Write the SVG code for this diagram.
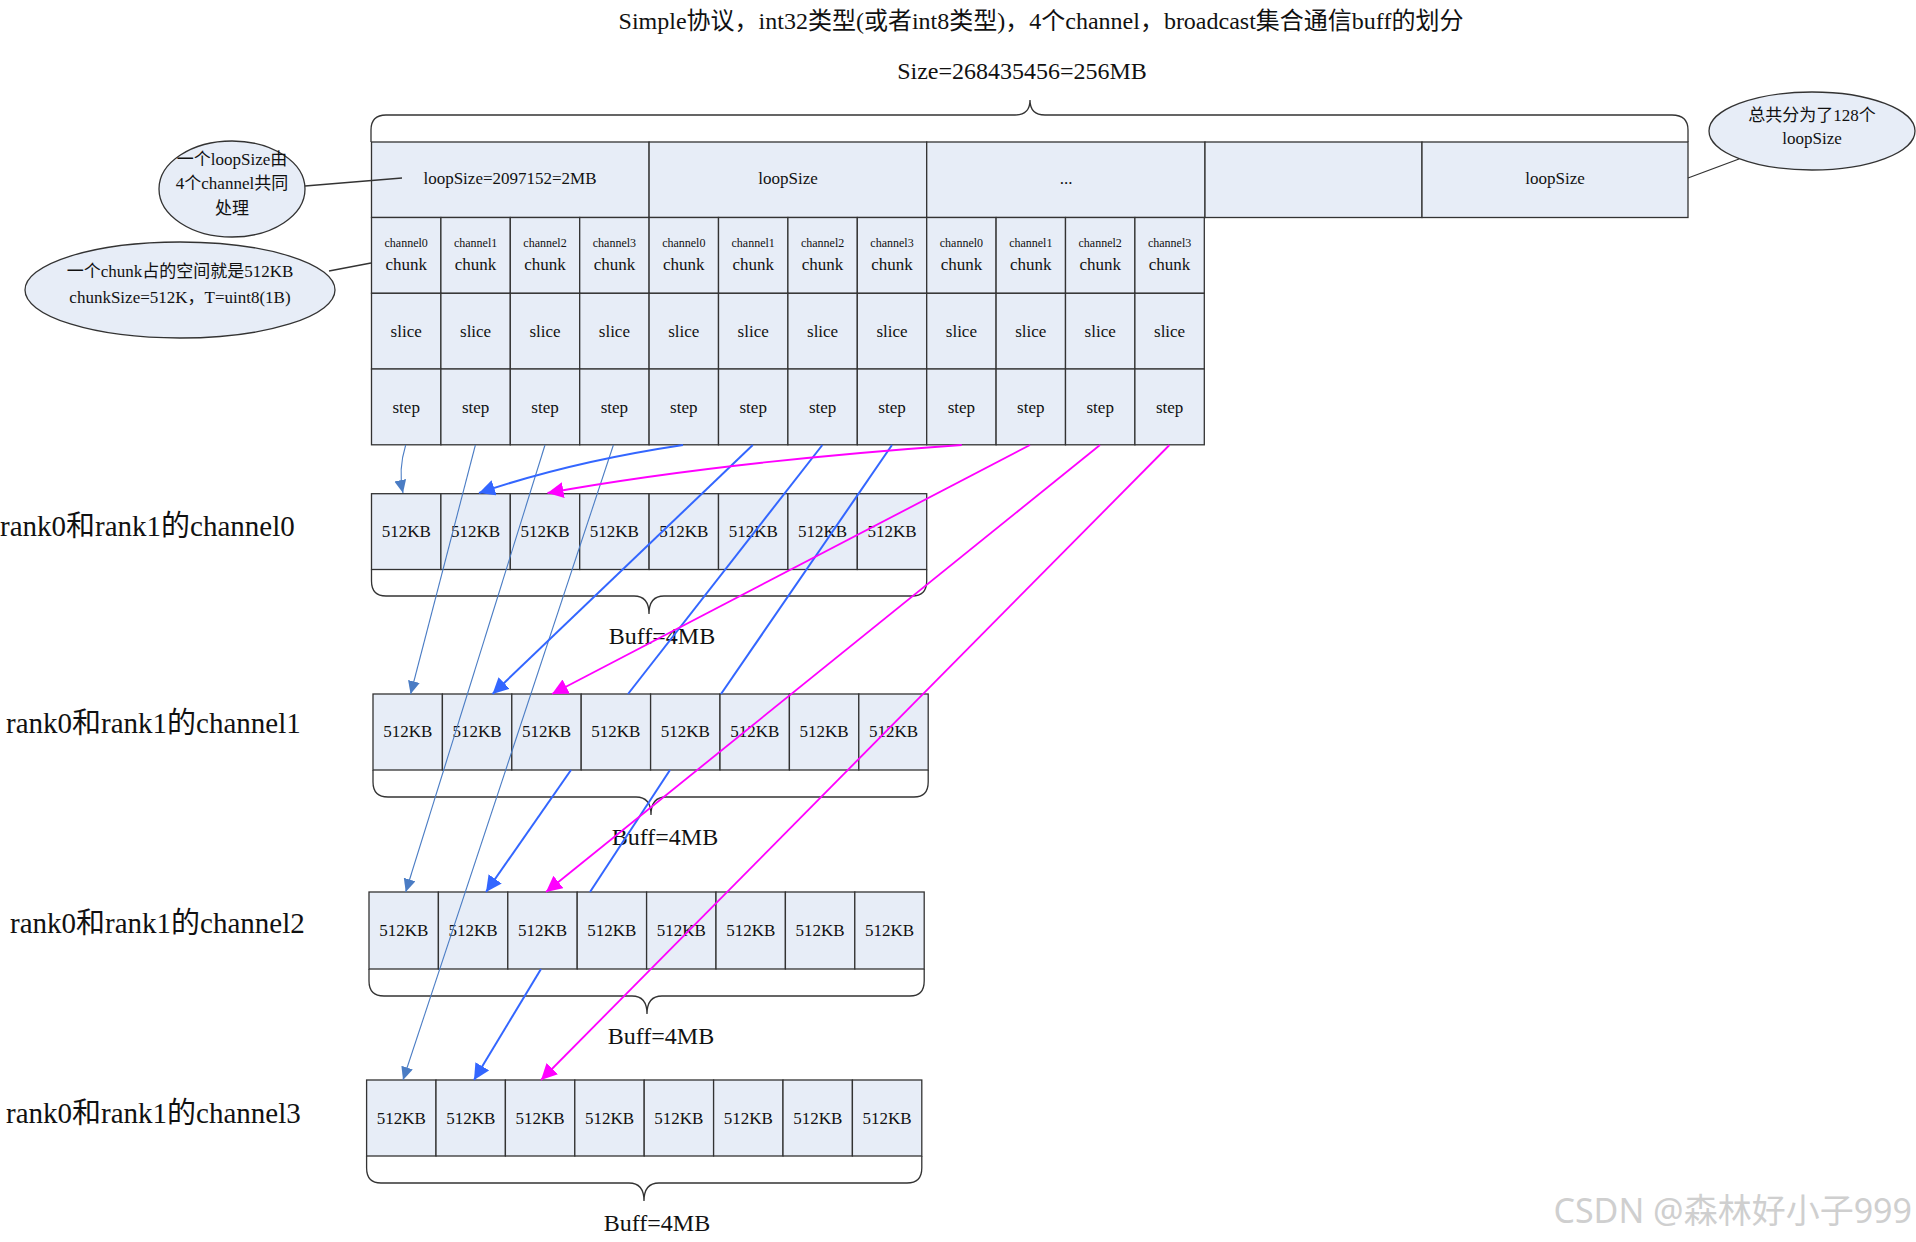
<svg xmlns="http://www.w3.org/2000/svg" width="1916" height="1242" viewBox="0 0 1916 1242">
<style>
text{font-family:"Liberation Serif","Noto Sans CJK SC",serif;fill:#111;text-anchor:middle;dominant-baseline:central}
.c{fill:#E7EDF7;stroke:#333;stroke-width:1.3}
.t{font-size:17px}
.s{font-size:12px}
.big{font-size:24px}
.rk{font-size:29px;text-anchor:start}
.br{fill:none;stroke:#333;stroke-width:1.3}
.el{fill:#E7EDF7;stroke:#333;stroke-width:1.3}
.tb{fill:none;stroke:#4A7CC4;stroke-width:1.1}
.bb{fill:none;stroke:#3366FF;stroke-width:2}
.mg{fill:none;stroke:#FF00FF;stroke-width:1.8}
</style>
<defs>
<marker id="aT" markerUnits="userSpaceOnUse" markerWidth="14" markerHeight="14" refX="13" refY="6" orient="auto"><path d="M0,0 L13,6 L0,12 Z" fill="#4A7CC4"/></marker>
<marker id="aB" markerUnits="userSpaceOnUse" markerWidth="18" markerHeight="18" refX="16" refY="8" orient="auto"><path d="M0,0 L16,8 L0,16 Z" fill="#3366FF"/></marker>
<marker id="aM" markerUnits="userSpaceOnUse" markerWidth="18" markerHeight="18" refX="16" refY="8" orient="auto"><path d="M0,0 L16,8 L0,16 Z" fill="#FF00FF"/></marker>
</defs>
<rect width="1916" height="1242" fill="#fff"/>
<g id="title">
<text class="big" x="1041" y="21">Simple协议，int32类型(或者int8类型)，4个channel，broadcast集合通信buff的划分</text>
<text class="big" x="1022" y="71">Size=268435456=256MB</text>
<path class="br" d="M371,142 V130 Q371,115 386,115 H1015 Q1030,115 1030,100 Q1030,115 1045,115 H1672 Q1688,115 1688,130 V142"/>
</g>
<g id="loop-row">
<rect class="c" x="371.5" y="142" width="277.6" height="75.5"/>
<rect class="c" x="649.1" y="142" width="277.6" height="75.5"/>
<rect class="c" x="926.7" y="142" width="278.3" height="75.5"/>
<rect class="c" x="1205" y="142" width="217" height="75.5"/>
<rect class="c" x="1422" y="142" width="266" height="75.5"/>
<text class="t" x="510" y="178">loopSize=2097152=2MB</text>
<text class="t" x="788" y="178">loopSize</text>
<text class="t" x="1066" y="178">...</text>
<text class="t" x="1555" y="178">loopSize</text>
</g>
<g id="chunk-grid">
<g fill="none">
<rect class="c" x="371.5" y="217.5" width="69.4" height="75.8"/><rect class="c" x="440.9" y="217.5" width="69.4" height="75.8"/><rect class="c" x="510.3" y="217.5" width="69.4" height="75.8"/><rect class="c" x="579.7" y="217.5" width="69.4" height="75.8"/><rect class="c" x="649.1" y="217.5" width="69.4" height="75.8"/><rect class="c" x="718.5" y="217.5" width="69.4" height="75.8"/><rect class="c" x="787.9" y="217.5" width="69.4" height="75.8"/><rect class="c" x="857.3" y="217.5" width="69.4" height="75.8"/><rect class="c" x="926.7" y="217.5" width="69.4" height="75.8"/><rect class="c" x="996.1" y="217.5" width="69.4" height="75.8"/><rect class="c" x="1065.5" y="217.5" width="69.4" height="75.8"/><rect class="c" x="1134.9" y="217.5" width="69.4" height="75.8"/>
<rect class="c" x="371.5" y="293.3" width="69.4" height="75.8"/><rect class="c" x="440.9" y="293.3" width="69.4" height="75.8"/><rect class="c" x="510.3" y="293.3" width="69.4" height="75.8"/><rect class="c" x="579.7" y="293.3" width="69.4" height="75.8"/><rect class="c" x="649.1" y="293.3" width="69.4" height="75.8"/><rect class="c" x="718.5" y="293.3" width="69.4" height="75.8"/><rect class="c" x="787.9" y="293.3" width="69.4" height="75.8"/><rect class="c" x="857.3" y="293.3" width="69.4" height="75.8"/><rect class="c" x="926.7" y="293.3" width="69.4" height="75.8"/><rect class="c" x="996.1" y="293.3" width="69.4" height="75.8"/><rect class="c" x="1065.5" y="293.3" width="69.4" height="75.8"/><rect class="c" x="1134.9" y="293.3" width="69.4" height="75.8"/>
<rect class="c" x="371.5" y="369" width="69.4" height="75.8"/><rect class="c" x="440.9" y="369" width="69.4" height="75.8"/><rect class="c" x="510.3" y="369" width="69.4" height="75.8"/><rect class="c" x="579.7" y="369" width="69.4" height="75.8"/><rect class="c" x="649.1" y="369" width="69.4" height="75.8"/><rect class="c" x="718.5" y="369" width="69.4" height="75.8"/><rect class="c" x="787.9" y="369" width="69.4" height="75.8"/><rect class="c" x="857.3" y="369" width="69.4" height="75.8"/><rect class="c" x="926.7" y="369" width="69.4" height="75.8"/><rect class="c" x="996.1" y="369" width="69.4" height="75.8"/><rect class="c" x="1065.5" y="369" width="69.4" height="75.8"/><rect class="c" x="1134.9" y="369" width="69.4" height="75.8"/>
</g>
<g class="s">
<text x="406.2" y="243">channel0</text><text x="475.6" y="243">channel1</text><text x="545" y="243">channel2</text><text x="614.4" y="243">channel3</text>
<text x="683.8" y="243">channel0</text><text x="753.2" y="243">channel1</text><text x="822.6" y="243">channel2</text><text x="892" y="243">channel3</text>
<text x="961.4" y="243">channel0</text><text x="1030.8" y="243">channel1</text><text x="1100.2" y="243">channel2</text><text x="1169.6" y="243">channel3</text>
</g>
<g class="t">
<text x="406.2" y="264">chunk</text><text x="475.6" y="264">chunk</text><text x="545" y="264">chunk</text><text x="614.4" y="264">chunk</text><text x="683.8" y="264">chunk</text><text x="753.2" y="264">chunk</text><text x="822.6" y="264">chunk</text><text x="892" y="264">chunk</text><text x="961.4" y="264">chunk</text><text x="1030.8" y="264">chunk</text><text x="1100.2" y="264">chunk</text><text x="1169.6" y="264">chunk</text>
<text x="406.2" y="331">slice</text><text x="475.6" y="331">slice</text><text x="545" y="331">slice</text><text x="614.4" y="331">slice</text><text x="683.8" y="331">slice</text><text x="753.2" y="331">slice</text><text x="822.6" y="331">slice</text><text x="892" y="331">slice</text><text x="961.4" y="331">slice</text><text x="1030.8" y="331">slice</text><text x="1100.2" y="331">slice</text><text x="1169.6" y="331">slice</text>
<text x="406.2" y="407">step</text><text x="475.6" y="407">step</text><text x="545" y="407">step</text><text x="614.4" y="407">step</text><text x="683.8" y="407">step</text><text x="753.2" y="407">step</text><text x="822.6" y="407">step</text><text x="892" y="407">step</text><text x="961.4" y="407">step</text><text x="1030.8" y="407">step</text><text x="1100.2" y="407">step</text><text x="1169.6" y="407">step</text>
</g>
</g>
<g id="note-loop">
<ellipse class="el" cx="232" cy="189" rx="73" ry="48"/>
<text class="t" x="232" y="159">一个loopSize由</text>
<text class="t" x="232" y="183">4个channel共同</text>
<text class="t" x="232" y="208">处理</text>
<line x1="305" y1="186" x2="402" y2="178" stroke="#333" stroke-width="1.3"/>
</g>
<g id="note-chunk">
<ellipse class="el" cx="180" cy="290" rx="155" ry="48"/>
<text class="t" x="180" y="271">一个chunk占的空间就是512KB</text>
<text class="t" x="180" y="297">chunkSize=512K，T=uint8(1B)</text>
<line x1="329" y1="271" x2="371" y2="263" stroke="#333" stroke-width="1.3"/>
</g>
<g id="note-total">
<ellipse class="el" cx="1812" cy="131" rx="103" ry="39"/>
<text class="t" x="1812" y="115">总共分为了128个</text>
<text class="t" x="1812" y="138">loopSize</text>
<line x1="1688" y1="178" x2="1739" y2="159" stroke="#333" stroke-width="1.3"/>
</g>
<g id="ch0">
<text class="rk" x="0" y="526">rank0和rank1的channel0</text>
<rect class="c" x="371.5" y="493.7" width="69.4" height="75.8"/><rect class="c" x="440.9" y="493.7" width="69.4" height="75.8"/><rect class="c" x="510.3" y="493.7" width="69.4" height="75.8"/><rect class="c" x="579.7" y="493.7" width="69.4" height="75.8"/><rect class="c" x="649.1" y="493.7" width="69.4" height="75.8"/><rect class="c" x="718.5" y="493.7" width="69.4" height="75.8"/><rect class="c" x="787.9" y="493.7" width="69.4" height="75.8"/><rect class="c" x="857.3" y="493.7" width="69.4" height="75.8"/>
<g class="t"><text x="406.2" y="531">512KB</text><text x="475.6" y="531">512KB</text><text x="545" y="531">512KB</text><text x="614.4" y="531">512KB</text><text x="683.8" y="531">512KB</text><text x="753.2" y="531">512KB</text><text x="822.6" y="531">512KB</text><text x="892" y="531">512KB</text></g>
<path class="br" d="M371.5,569.5 V581 Q371.5,596 386,596 H634 Q649,596 649,614 Q649,596 664,596 H912 Q926.7,596 926.7,581 V569.5"/>
<text class="big" x="662" y="636">Buff=4MB</text>
</g>
<g id="ch1">
<text class="rk" x="6" y="723">rank0和rank1的channel1</text>
<rect class="c" x="373" y="694" width="69.4" height="76"/><rect class="c" x="442.4" y="694" width="69.4" height="76"/><rect class="c" x="511.8" y="694" width="69.4" height="76"/><rect class="c" x="581.2" y="694" width="69.4" height="76"/><rect class="c" x="650.6" y="694" width="69.4" height="76"/><rect class="c" x="720" y="694" width="69.4" height="76"/><rect class="c" x="789.4" y="694" width="69.4" height="76"/><rect class="c" x="858.8" y="694" width="69.4" height="76"/>
<g class="t"><text x="407.7" y="731">512KB</text><text x="477.1" y="731">512KB</text><text x="546.5" y="731">512KB</text><text x="615.9" y="731">512KB</text><text x="685.3" y="731">512KB</text><text x="754.7" y="731">512KB</text><text x="824.1" y="731">512KB</text><text x="893.5" y="731">512KB</text></g>
<path class="br" d="M373,770 V782 Q373,797 388,797 H636 Q651,797 651,815 Q651,797 666,797 H914 Q928.2,797 928.2,782 V770"/>
<text class="big" x="665" y="837">Buff=4MB</text>
</g>
<g id="ch2">
<text class="rk" x="10" y="923">rank0和rank1的channel2</text>
<rect class="c" x="369" y="892" width="69.4" height="77"/><rect class="c" x="438.4" y="892" width="69.4" height="77"/><rect class="c" x="507.8" y="892" width="69.4" height="77"/><rect class="c" x="577.2" y="892" width="69.4" height="77"/><rect class="c" x="646.6" y="892" width="69.4" height="77"/><rect class="c" x="716" y="892" width="69.4" height="77"/><rect class="c" x="785.4" y="892" width="69.4" height="77"/><rect class="c" x="854.8" y="892" width="69.4" height="77"/>
<g class="t"><text x="403.7" y="930">512KB</text><text x="473.1" y="930">512KB</text><text x="542.5" y="930">512KB</text><text x="611.9" y="930">512KB</text><text x="681.3" y="930">512KB</text><text x="750.7" y="930">512KB</text><text x="820.1" y="930">512KB</text><text x="889.5" y="930">512KB</text></g>
<path class="br" d="M369,969 V981 Q369,996 384,996 H632 Q647,996 647,1014 Q647,996 662,996 H910 Q924.2,996 924.2,981 V969"/>
<text class="big" x="661" y="1036">Buff=4MB</text>
</g>
<g id="ch3">
<text class="rk" x="6" y="1113">rank0和rank1的channel3</text>
<rect class="c" x="366.6" y="1080" width="69.4" height="76"/><rect class="c" x="436" y="1080" width="69.4" height="76"/><rect class="c" x="505.4" y="1080" width="69.4" height="76"/><rect class="c" x="574.8" y="1080" width="69.4" height="76"/><rect class="c" x="644.2" y="1080" width="69.4" height="76"/><rect class="c" x="713.6" y="1080" width="69.4" height="76"/><rect class="c" x="783" y="1080" width="69.4" height="76"/><rect class="c" x="852.4" y="1080" width="69.4" height="76"/>
<g class="t"><text x="401.3" y="1118">512KB</text><text x="470.7" y="1118">512KB</text><text x="540.1" y="1118">512KB</text><text x="609.5" y="1118">512KB</text><text x="678.9" y="1118">512KB</text><text x="748.3" y="1118">512KB</text><text x="817.7" y="1118">512KB</text><text x="887.1" y="1118">512KB</text></g>
<path class="br" d="M366.6,1156 V1168 Q366.6,1183 381,1183 H629 Q644,1183 644,1201 Q644,1183 659,1183 H907 Q921.8,1183 921.8,1168 V1156"/>
<text class="big" x="657" y="1223">Buff=4MB</text>
</g>
<g id="connectors">
<path class="tb" marker-end="url(#aT)" d="M405.7,445 Q398,470 403,493"/>
<line class="tb" marker-end="url(#aT)" x1="475.4" y1="445" x2="410.6" y2="694"/>
<line class="tb" marker-end="url(#aT)" x1="545" y1="445" x2="405.7" y2="892"/>
<line class="tb" marker-end="url(#aT)" x1="613.4" y1="445" x2="403" y2="1080"/>
<path class="bb" marker-end="url(#aB)" d="M683,445 Q570,462 479,493"/>
<line class="bb" marker-end="url(#aB)" x1="752.8" y1="445" x2="492.5" y2="694"/>
<line class="bb" x1="822.4" y1="445" x2="628" y2="694"/>
<line class="bb" marker-end="url(#aB)" x1="571" y1="770" x2="486" y2="892"/>
<line class="bb" x1="892" y1="445" x2="721" y2="694"/>
<line class="bb" x1="670" y1="770" x2="590" y2="892"/>
<line class="bb" marker-end="url(#aB)" x1="541" y1="969" x2="474" y2="1080"/>
<path class="mg" marker-end="url(#aM)" d="M961.7,445 Q720,462 547.5,493"/>
<line class="mg" marker-end="url(#aM)" x1="1030" y1="445" x2="552" y2="694"/>
<line class="mg" marker-end="url(#aM)" x1="1100" y1="445" x2="546" y2="892"/>
<line class="mg" marker-end="url(#aM)" x1="1169.5" y1="445" x2="541" y2="1080"/>
</g>
<text x="1912" y="1210" style="font-family:'Noto Sans','Noto Sans CJK SC',sans-serif;font-size:34px;fill:#cfcfcf;text-anchor:end">CSDN @森林好小子999</text>
</svg>
